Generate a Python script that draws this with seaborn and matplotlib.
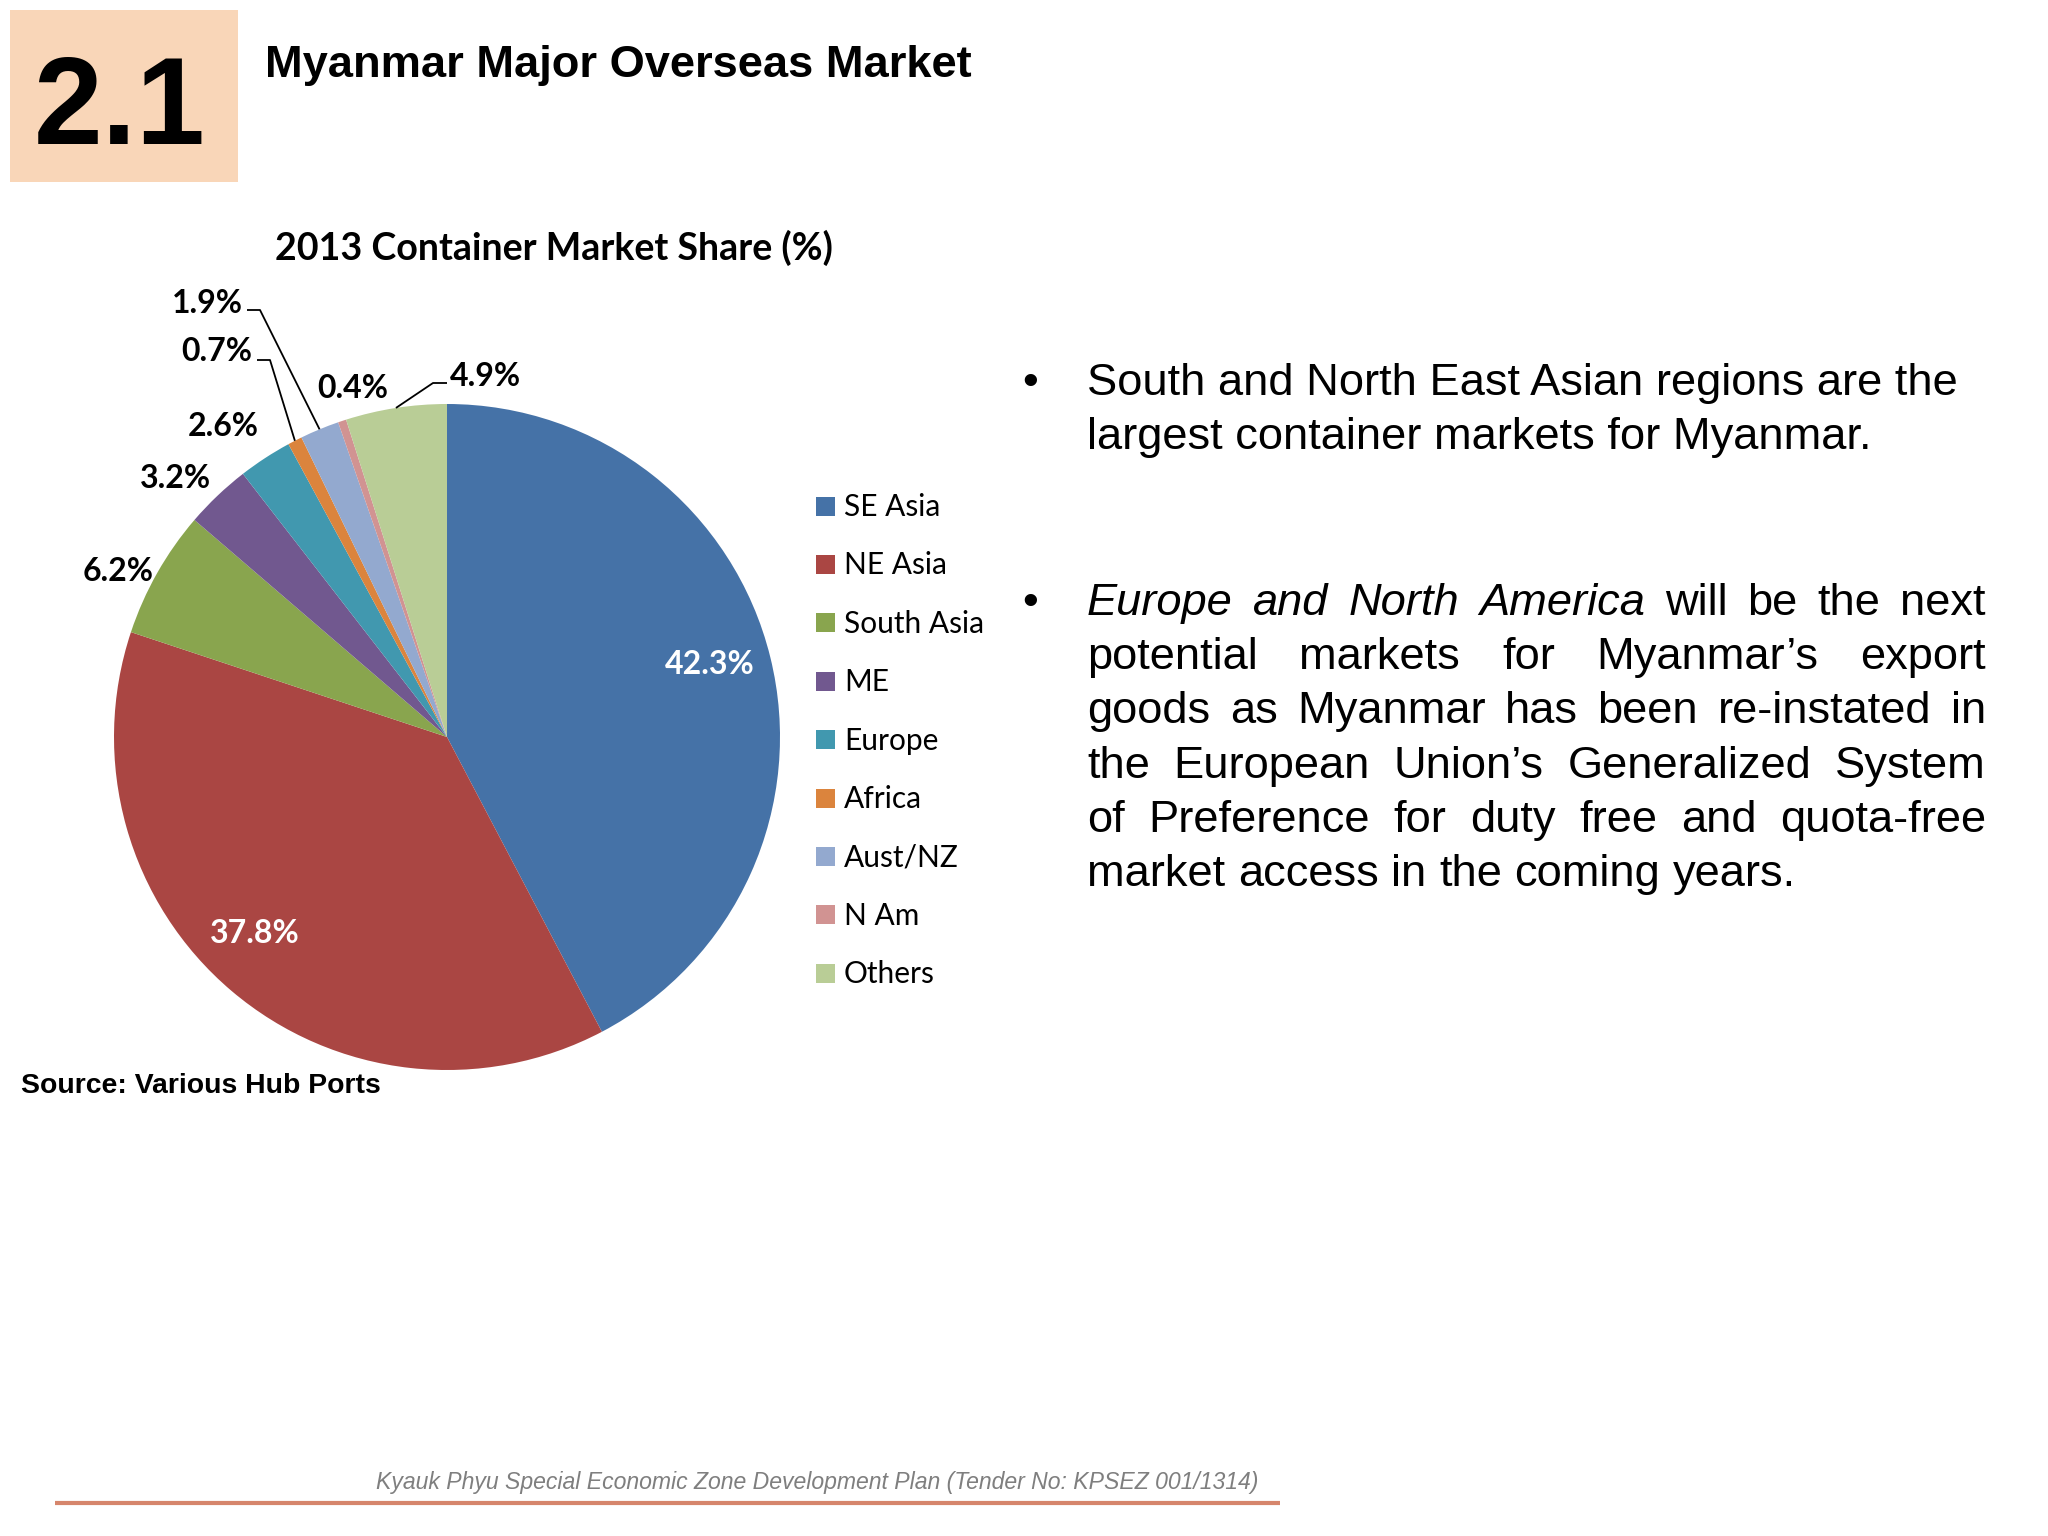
import numpy as np
import pandas as pd
import seaborn as sns
import matplotlib
matplotlib.use("Agg")
import matplotlib.pyplot as plt
from matplotlib.patches import Rectangle
from matplotlib import font_manager as fm

# ---------------- data ----------------
regions = ["SE Asia", "NE Asia", "South Asia", "ME", "Europe",
           "Africa", "Aust/NZ", "N Am", "Others"]
shares = [42.3, 37.8, 6.2, 3.2, 2.6, 0.7, 1.9, 0.4, 4.9]
region_colors = ["#4572A7", "#AA4643", "#89A54E", "#71588F", "#4198AF",
                 "#DB843D", "#93A9CF", "#D19392", "#B9CD96"]

header_number = "2.1"
header_title = "Myanmar Major Overseas Market"
chart_title = "2013 Container Market Share (%)"
source_text = "Source: Various Hub Ports"
footer_text = "Kyauk Phyu Special Economic Zone Development Plan (Tender No: KPSEZ 001/1314)"

para1_lines = ["South and North East Asian regions are the",
               "largest container markets for Myanmar."]
para2_lines = [[("Europe", "italic"), ("and", "italic"), ("North", "italic"),
                ("America", "italic"), ("will", "normal"), ("be", "normal"),
                ("the", "normal"), ("next", "normal")],
               "potential markets for Myanmar\u2019s export",
               "goods as Myanmar has been re-instated in",
               "the European Union\u2019s Generalized System",
               "of Preference for duty free and quota-free",
               "market access in the coming years."]

# ---------------- style ----------------
sns.set_theme(style="white")
plt.rcParams['font.family'] = ['Liberation Sans', 'DejaVu Sans']

W, H = 2048, 1536
fig = plt.figure(figsize=(W / 100, H / 100), dpi=100)
fig.patch.set_facecolor("white")
ax = fig.add_axes([0, 0, 1, 1])
renderer = fig.canvas.get_renderer()


def Y(y):
    return H - y


CAL = ['Lato', 'DejaVu Sans']
ARIAL = ['Liberation Sans', 'DejaVu Sans']

# ---------------- pie ----------------
df = pd.DataFrame({"region": regions, "share": shares})
pal = sns.color_palette(region_colors)
cx, cy, R = 447, 737, 333
wedges, _ = ax.pie(df["share"], colors=pal, startangle=90, counterclock=False,
                   center=(cx, Y(cy)), radius=R, wedgeprops=dict(linewidth=0))
ax.set_xlim(0, W)
ax.set_ylim(0, H)
ax.set_aspect("auto")
ax.axis("off")

# label layout: (x centre, baseline, colour)
label_layout = {
    "SE Asia": (710, 674, "white"),
    "NE Asia": (255, 943, "white"),
    "South Asia": (118, 581, "black"),
    "ME": (175, 488, "black"),
    "Europe": (223, 436, "black"),
    "Africa": (217, 361, "black"),
    "Aust/NZ": (207, 313, "black"),
    "N Am": (353, 398, "black"),
    "Others": (485, 386, "black"),
}
# leader lines: elbow point and end point near label
leader_layout = {
    "Aust/NZ": [(260, 310), (247, 310)],
    "Africa": [(270, 360), (257, 360)],
    "Others": [(433, 383), (447, 383)],
}
for w, reg, val in zip(wedges, regions, shares):
    lx, ly, col = label_layout[reg]
    ax.text(lx, Y(ly), f"{val}%", family=CAL, fontweight="bold", fontsize=23,
            color=col, ha="center", va="baseline")
    if reg in leader_layout:
        mid = np.deg2rad((w.theta1 + w.theta2) / 2)
        ex, ey = cx + R * np.cos(mid), Y(cy) + R * np.sin(mid)
        pts = [(ex, ey)] + [(px, Y(py)) for px, py in leader_layout[reg]]
        xs, ys = zip(*pts)
        ax.plot(xs, ys, color="black", lw=1.3, solid_capstyle="butt")

# ---------------- legend (manual) ----------------
leg_x, leg_top, leg_step, sq = 816, 506, 58.4, 19
for i, (reg, col) in enumerate(zip(regions, pal)):
    yc = leg_top + i * leg_step
    ax.add_patch(Rectangle((leg_x, Y(yc + sq / 2)), sq, sq, facecolor=col, edgecolor="none"))
    ax.text(leg_x + 28, Y(yc + 10), reg, family=CAL, fontsize=21.5, color="black",
            ha="left", va="baseline")


# ---------------- helper to fit text width ----------------
def fit_text(x, ybase, s, width, **kw):
    t = ax.text(x, Y(ybase), s, fontsize=10, ha="left", va="baseline", **kw)
    w = t.get_window_extent(renderer).width
    t.set_fontsize(10 * width / w)
    return t


# ---------------- header ----------------
ax.add_patch(Rectangle((10, Y(182)), 228, 172, facecolor="#F9D6B8", edgecolor="none"))
ax.text(34, Y(144), header_number, family=ARIAL, fontweight="bold", fontsize=89,
        color="black", ha="left", va="baseline")
fit_text(265, 77, header_title, 707, family=ARIAL, fontweight="bold", color="black")

# chart title
fit_text(275, 260, chart_title, 560, family=CAL, fontweight="bold", color="black")

# source
fit_text(21, 1093, source_text, 359, family=ARIAL, fontweight="bold", color="black")

# footer
narrow = None
for cand in ["Liberation Sans Narrow", "Arial Narrow"]:
    try:
        fm.findfont(fm.FontProperties(family=cand), fallback_to_default=False)
        narrow = cand
        break
    except Exception:
        pass
ffam = [narrow, 'DejaVu Sans'] if narrow else ARIAL
fit_text(376, 1489, footer_text, 884, family=ffam, fontstyle="italic", color="#7F7F7F")
ax.plot([55, 1280], [Y(1503), Y(1503)], color="#D6866C", lw=3, solid_capstyle="butt")

# ---------------- bullet text ----------------
fs = 32.6
tx, rx, bx = 1087, 1986, 1030


def measure(s, style="normal"):
    t = ax.text(0, 0, s, family=ARIAL, fontsize=fs, fontstyle=style)
    w = t.get_window_extent(renderer).width
    t.remove()
    return w


def bullet(yb):
    ax.text(bx, Y(yb), "\u2022", family=ARIAL, fontsize=fs, ha="center",
            va="baseline", color="black")


bullet(395)
for i, line in enumerate(para1_lines):
    ax.text(tx, Y(395 + i * 54.2), line, family=ARIAL, fontsize=fs,
            ha="left", va="baseline", color="black")

bullet(615)
space_w = measure("a a") - measure("aa")
for i, line in enumerate(para2_lines):
    yb = 615 + i * 54.2
    words = line if isinstance(line, list) else [(wd, "normal") for wd in line.split()]
    widths = [measure(wd, st) for wd, st in words]
    last = i == len(para2_lines) - 1
    if last:
        gap = space_w
    else:
        gap = (rx - tx - sum(widths)) / (len(words) - 1)
    x = tx
    for (wd, st), wdt in zip(words, widths):
        ax.text(x, Y(yb), wd, family=ARIAL, fontsize=fs, fontstyle=st,
                ha="left", va="baseline", color="black")
        x += wdt + gap

fig.savefig("out.png", dpi=100, facecolor="white")
